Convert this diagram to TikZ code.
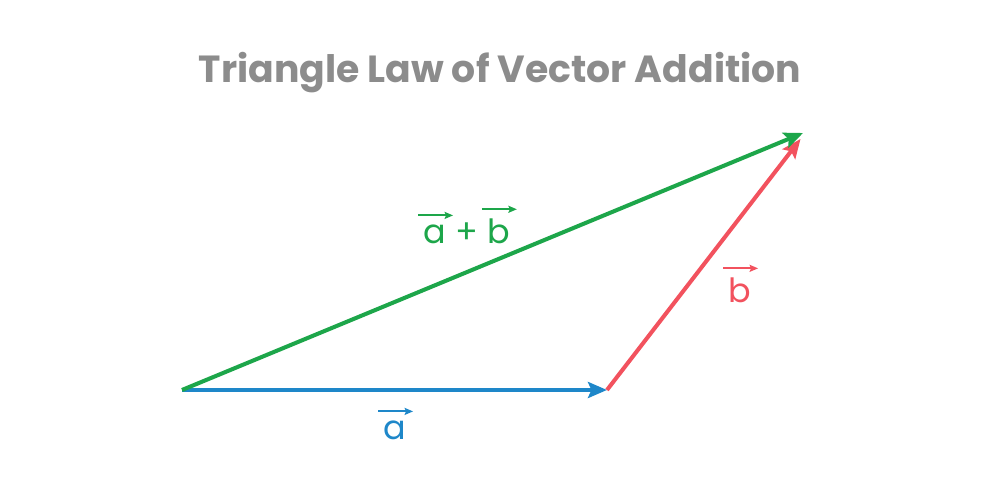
\documentclass[tikz,border=0pt]{standalone}
\usepackage{fontspec}
\setmainfont{Poppins}
\usetikzlibrary{arrows.meta,positioning}
\definecolor{vecblue}{HTML}{1E87C9}
\definecolor{vecred}{HTML}{F2525E}
\definecolor{vecgreen}{HTML}{1DA64A}
\definecolor{titlegray}{HTML}{8C8C8C}

\begin{document}
\begin{tikzpicture}
% definizione stile dei vettori
\tikzset{myvector/.style={draw=#1, line width=2.3pt, -{Stealth[length=0.38cm, width=0.32cm, inset=0.07cm]}}}
% definizione stile delle etichette
\tikzset{mylabel/.style={text=#1, font=\fontsize{19}{22}\selectfont, inner sep=0pt}}
% freccetta sopra le etichette
\tikzset{mybar/.style={draw=#1, line width=1.1pt, -{Stealth[length=0.17cm, width=0.14cm, inset=0.03cm]}}}

% area del disegno
\useasboundingbox (0,0) rectangle (20,10.02);

% titolo
\node[text=titlegray, font=\fontsize{21.5}{25}\selectfont\bfseries] (title) at (10,8.56) {Triangle Law of Vector Addition};

%----
% vertici del triangolo
\coordinate (O) at (3.64,2.22);
\coordinate (A) at (12.14,2.22);
\coordinate (B) at (16.06,7.36);
\coordinate (Bb) at (16.01,7.24);

% inserimento vettori
\draw[myvector=vecblue] (O) -- (A);
\draw[myvector=vecred] (A) -- (Bb);
\draw[myvector=vecgreen] (O) -- (B);

%----
% etichetta a
\node[mylabel=vecblue] (la) at (7.9,1.42) {a};
\draw[mybar=vecblue] ([xshift=-3pt,yshift=5pt]la.north west) -- ++(0.7,0);
% etichetta b
\node[mylabel=vecred] (lb) at (14.8,4.22) {b};
\draw[mybar=vecred] ([xshift=-3pt,yshift=5pt]lb.north west) -- ++(0.7,0);
% etichetta a + b
\node[mylabel=vecgreen] (lsa) at (8.7,5.34) {a};
\node[mylabel=vecgreen, anchor=base west] (lplus) at ([xshift=0.17cm]lsa.base east) {+};
\node[mylabel=vecgreen, anchor=base west] (lsb) at ([xshift=0.17cm]lplus.base east) {b};
\draw[mybar=vecgreen] ([xshift=-3pt,yshift=5pt]lsa.north west) -- ++(0.7,0);
\draw[mybar=vecgreen] ([xshift=-3pt,yshift=5pt]lsb.north west) -- ++(0.7,0);
\end{tikzpicture}
\end{document}
